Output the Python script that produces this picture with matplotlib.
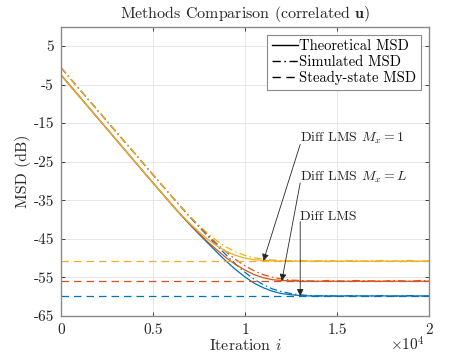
import matplotlib
matplotlib.use("Agg")
import matplotlib.pyplot as plt
from matplotlib.lines import Line2D

plt.rcParams['font.family'] = 'cmr10'
plt.rcParams['mathtext.fontset'] = 'cm'
plt.rcParams['axes.unicode_minus'] = False
plt.rcParams['axes.formatter.use_mathtext'] = True

# ---------------- data ----------------
iterations = [0, 1000, 2000, 3000, 4000, 5000, 6000, 6500, 7000, 7500, 8000, 8500,
              9000, 9500, 10000, 10500, 11000, 11500, 12000, 12500, 13000, 13500,
              14000, 14500, 15000, 15500, 16000, 16500, 17000, 17500, 18000, 18500,
              19000, 19500, 20000]

labels = ['Diff LMS', r'Diff LMS $M_x = L$', r'Diff LMS $M_x = 1$']

theo_diff = [-2.5, -8.1, -13.7, -19.3, -24.9, -30.5, -36.0, -38.7, -41.3, -43.8, -46.2, -48.6,
             -50.9, -53.0, -54.9, -56.5, -57.7, -58.6, -59.2, -59.5, -59.7, -59.8,
             -59.8, -59.8, -59.8, -59.8, -59.8, -59.8, -59.8, -59.8, -59.8, -59.8,
             -59.8, -59.8, -59.8]
theo_L = [-2.5, -8.1, -13.7, -19.3, -24.9, -30.5, -36.0, -38.7, -41.2, -43.6, -45.9, -48.0,
          -50.0, -51.7, -53.1, -54.3, -55.1, -55.6, -55.8, -55.9, -56.0, -56.0,
          -56.0, -56.0, -56.0, -56.0, -56.0, -56.0, -56.0, -56.0, -56.0, -56.0,
          -56.0, -56.0, -56.0]
theo_1 = [-2.5, -8.1, -13.7, -19.3, -24.9, -30.5, -36.0, -38.6, -41.0, -43.2, -45.2, -46.9,
          -48.3, -49.3, -50.0, -50.4, -50.6, -50.7, -50.8, -50.8, -50.8, -50.8,
          -50.8, -50.8, -50.8, -50.8, -50.8, -50.8, -50.8, -50.8, -50.8, -50.8,
          -50.8, -50.8, -50.8]

sim_diff = [-0.6, -6.2, -11.7, -17.3, -22.8, -28.4, -33.9, -36.6, -39.3, -41.9, -44.4, -46.9,
            -49.3, -51.6, -53.7, -55.5, -56.9, -58.0, -58.7, -59.2, -59.5, -59.7,
            -59.8, -59.7, -59.9, -59.8, -59.7, -59.9, -59.8, -59.7, -59.9, -59.8,
            -59.7, -59.9, -59.8]
sim_L = [-0.6, -6.2, -11.7, -17.3, -22.8, -28.4, -33.9, -36.6, -39.2, -41.7, -44.1, -46.4,
         -48.5, -50.4, -52.0, -53.3, -54.3, -55.0, -55.4, -55.7, -55.8, -55.9,
         -56.0, -55.8, -55.9, -56.0, -55.8, -55.9, -55.9, -56.0, -55.8, -55.9,
         -56.0, -55.8, -55.9]
sim_1 = [-0.6, -6.2, -11.7, -17.3, -22.8, -28.4, -33.9, -36.6, -39.1, -41.5, -43.7, -45.6,
         -47.2, -48.4, -49.3, -49.9, -50.3, -50.5, -50.6, -50.7, -50.6, -50.8,
         -50.7, -50.6, -50.8, -50.7, -50.6, -50.8, -50.7, -50.6, -50.8, -50.7,
         -50.6, -50.8, -50.7]

steady = [-59.8, -56.0, -50.8]

theo = [theo_diff, theo_L, theo_1]
sim = [sim_diff, sim_L, sim_1]

arrow_tips = [(13000, -59.8), (12000, -55.9), (11000, -50.7)]
text_pos = [(13000, -40.5), (13000, -30.5), (13000, -20.5)]

xticks = [0, 5000, 10000, 15000, 20000]
xticklabels = ['0', '0.5', '1', '1.5', '2']
yticks = [5, -5, -15, -25, -35, -45, -55, -65]
yticklabels = ['5', '-5', '-15', '-25', '-35', '-45', '-55', '-65']

colors = ['#0072BD', '#D95319', '#EDB120']
legend_labels = ['Theoretical MSD', 'Simulated MSD', 'Steady-state MSD']

# ---------------- plot ----------------
fig = plt.figure(figsize=(4.74, 3.55), dpi=100)
ax = fig.add_axes([0.1287, 0.1099, 0.7764, 0.8149])

lw = 0.9
for k in range(3):
    ax.plot(iterations, theo[k], '-', color=colors[k], lw=lw)
    ax.plot(iterations, sim[k], '-.', color=colors[k], lw=lw, dashes=(6, 2.5, 1.2, 2.5))
    ax.plot([iterations[0], iterations[-1]], [steady[k], steady[k]], '--',
            color=colors[k], lw=lw, dashes=(6, 4))

ax.set_xlim(0, 20000)
ax.set_ylim(-65, 10)
ax.set_xticks(xticks)
ax.set_xticklabels(xticklabels)
ax.set_yticks(yticks)
ax.set_yticklabels(yticklabels)
ax.grid(True, color='#e3e3e3', lw=0.6)
ax.set_axisbelow(True)
ax.tick_params(direction='in', length=3, width=0.6, colors='#262626',
               labelsize=11, top=True, right=True, pad=5)
for s in ax.spines.values():
    s.set_color('#8a8a8a')
    s.set_linewidth(1.0)

ax.set_title(r'Methods Comparison (correlated $\mathbf{u}$)', fontsize=11.5,
             color='#262626', pad=6)
ax.set_xlabel(r'Iteration $i$', fontsize=11.5, color='#262626', labelpad=1)
ax.set_ylabel('MSD (dB)', fontsize=11.5, color='#262626', labelpad=2)
ax.text(0.99, -0.10, r'$\times10^4$', transform=ax.transAxes, ha='right',
        va='center', fontsize=11, color='#262626')

for k in range(3):
    tip = arrow_tips[k]
    tail = text_pos[k]
    ax.annotate('', xy=tip, xytext=tail,
                arrowprops=dict(arrowstyle='-|>', color='#262626', lw=0.6,
                                mutation_scale=10, shrinkA=0, shrinkB=0))
    ax.text(tail[0], tail[1] - 0.5, labels[k], fontsize=10, ha='left', va='bottom',
            color='#262626')

handles = [Line2D([], [], color='k', lw=1.0, ls='-'),
           Line2D([], [], color='k', lw=1.0, ls='-.', dashes=(6, 2.5, 1.2, 2.5)),
           Line2D([], [], color='k', lw=1.0, ls='--', dashes=(6, 4))]
leg = ax.legend(handles, legend_labels, loc='upper right', bbox_to_anchor=(0.978, 0.972),
                borderaxespad=0, fontsize=10.5, handlelength=1.8, handletextpad=0.1,
                labelspacing=0.15, borderpad=0.3, fancybox=False, framealpha=1)
leg.get_frame().set_edgecolor('#8a8a8a')
leg.get_frame().set_linewidth(0.8)

fig.savefig('out.png', dpi=100)
